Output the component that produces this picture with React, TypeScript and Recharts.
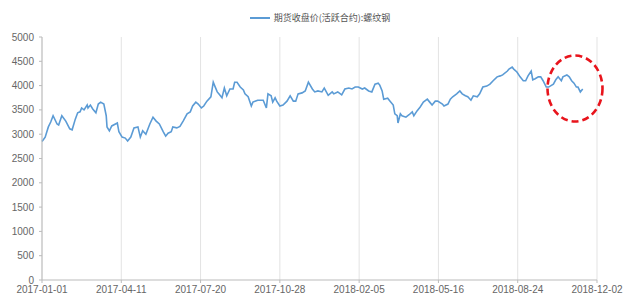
import { LineChart, Line, XAxis, YAxis, CartesianGrid } from 'recharts';

// day offset from 2017-01-01 and the close price
const days = [
  0, 4, 8, 11, 14, 19, 21, 25, 30, 35, 38, 42, 45, 48, 50, 53, 57, 58, 61, 64,
  68, 71, 74, 78, 81, 82, 85, 88, 95, 97, 101, 105, 108, 112, 116, 121, 124, 127, 131, 136,
  140, 144, 148, 153, 156, 159, 163, 165, 170, 174, 178, 183, 187, 190, 194, 197, 201, 204, 208, 213,
  216, 218, 221, 223, 227, 230, 233, 237, 241, 243, 246, 250, 254, 256, 260, 264, 266, 272, 279, 283,
  285, 289, 291, 294, 296, 300, 304, 309, 313, 317, 320, 323, 328, 332, 336, 341, 344, 348, 353, 356,
  361, 366, 368, 373, 378, 382, 387, 391, 395, 399, 404, 407, 412, 416, 420, 424, 426, 429, 431, 436,
  439, 443, 445, 448, 449, 452, 454, 459, 463, 467, 469, 473, 477, 481, 486, 489, 492, 496, 499, 505,
  507, 512, 515, 518, 523, 527, 530, 534, 537, 541, 544, 549, 552, 556, 561, 565, 569, 574, 578, 581,
  587, 589, 593, 595, 599, 603, 607, 610, 613, 617, 619, 622, 626, 629, 632, 636, 639, 645, 648, 651,
  655, 657, 662, 665, 668, 671, 674, 676, 679, 682,
];

const prices = [
  2850, 2940, 3150, 3250, 3380, 3210, 3190, 3380, 3270, 3110, 3090, 3310, 3440, 3460, 3540, 3500, 3600, 3540, 3600, 3520,
  3440, 3620, 3660, 3620, 3380, 3150, 3070, 3170, 3230, 3050, 2940, 2920, 2860, 2940, 3130, 3150, 2940, 3070, 3000, 3210,
  3350, 3270, 3210, 3050, 2960, 3020, 3050, 3150, 3130, 3160, 3270, 3420, 3460, 3580, 3660, 3620, 3540, 3580, 3680, 3770,
  4070, 3990, 3870, 3830, 3750, 3950, 3790, 3930, 3930, 4070, 4070, 3970, 3910, 3830, 3770, 3580, 3660, 3700, 3700, 3540,
  3830, 3790, 3660, 3750, 3680, 3580, 3600, 3680, 3790, 3680, 3680, 3830, 3850, 3890, 4070, 3930, 3870, 3890, 3870, 3950,
  3800, 3870, 3830, 3870, 3810, 3930, 3950, 3930, 3970, 3970, 3930, 3950, 3890, 3870, 4030, 4050, 4010, 3890, 3720, 3740,
  3680, 3600, 3420, 3380, 3230, 3420, 3380, 3350, 3400, 3460, 3380, 3480, 3560, 3660, 3720, 3660, 3600, 3680, 3680, 3620,
  3580, 3620, 3720, 3770, 3830, 3890, 3830, 3790, 3770, 3700, 3790, 3770, 3830, 3970, 3990, 4030, 4100, 4180, 4200, 4220,
  4300, 4340, 4380, 4340, 4280, 4180, 4100, 4100, 4200, 4300, 4120, 4140, 4180, 4180, 4100, 3970, 3970, 4030, 4120, 4180,
  4100, 4180, 4220, 4180, 4100, 4050, 3970, 3970, 3870, 3930,
];

const xTicks = [0, 100, 200, 300, 400, 500, 600, 700];
const xTickLabels = ['2017-01-01', '2017-04-11', '2017-07-20', '2017-10-28', '2018-02-05', '2018-05-16', '2018-08-24', '2018-12-02'];
const yTicks = [0, 500, 1000, 1500, 2000, 2500, 3000, 3500, 4000, 4500, 5000];

const seriesName = '期货收盘价(活跃合约):螺纹钢';

const data = days.map((d, i) => ({ d, price: prices[i] }));

const LINE = '#5b9bd5';
const tickStyle = { fill: '#666', fontSize: 10, fontFamily: 'Liberation Sans, Arial, sans-serif' };

export default function App() {
  return (
    <div style={{ position: 'absolute', left: 0, top: 0, width: 640, height: 306, background: '#fff' }}>
      <div
        style={{
          position: 'absolute', top: 11, left: 0, width: 640, display: 'flex', justifyContent: 'center',
          alignItems: 'center', fontSize: 9, color: '#555', fontFamily: '"Noto Sans CJK SC", sans-serif',
        }}
      >
        <span style={{ display: 'inline-block', width: 20, height: 2, background: LINE, marginRight: 4, marginLeft: 0 }} />
        <span>{seriesName}</span>
      </div>
      <LineChart width={640} height={306} data={data} margin={{ top: 37, right: 43, bottom: 6, left: 0 }}>
        <CartesianGrid horizontal={false} stroke="#e3e3e3" verticalPoints={undefined} />
        <XAxis
          dataKey="d"
          type="number"
          domain={[0, 700]}
          ticks={xTicks}
          tickFormatter={(v: number) => xTickLabels[xTicks.indexOf(v)] ?? ''}
          interval={0}
          height={20}
          tickSize={3}
          tickMargin={3}
          stroke="#bbb"
          tick={tickStyle}
        />
        <YAxis
          domain={[0, 5000]}
          ticks={yTicks}
          interval={0}
          width={42}
          tickSize={3}
          tickMargin={5}
          stroke="#bbb"
          tick={tickStyle}
        />
        <Line
          type="linear"
          dataKey="price"
          name={seriesName}
          stroke={LINE}
          strokeWidth={1.6}
          dot={false}
          isAnimationActive={false}
        />
      </LineChart>
      <svg width={640} height={306} style={{ position: 'absolute', left: 0, top: 0, pointerEvents: 'none' }}>
        <ellipse cx={575} cy={88.5} rx={27.5} ry={33} fill="none" stroke="#e8141c" strokeWidth={2.6} strokeDasharray="7 4" />
      </svg>
    </div>
  );
}
